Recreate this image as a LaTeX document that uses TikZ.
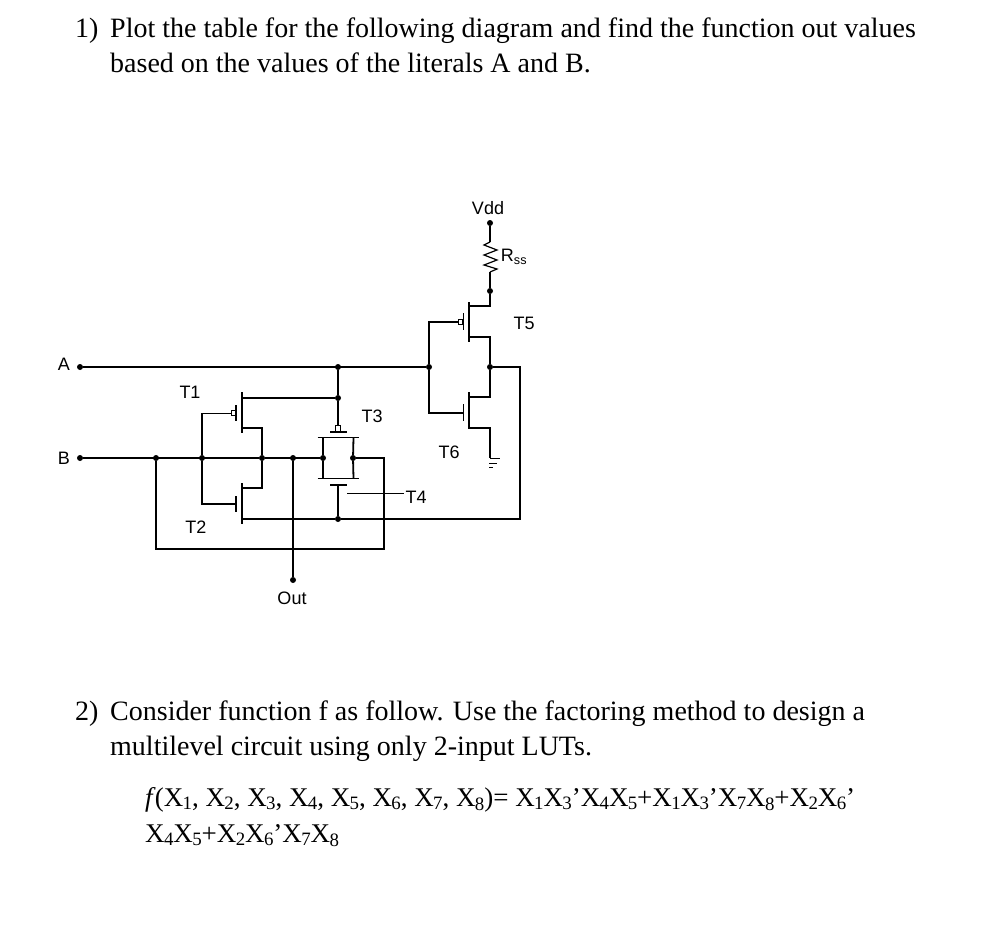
\documentclass[tikz,border=0pt]{standalone}
\usepackage{fontspec}
\setmainfont{Liberation Serif}
\setsansfont{Liberation Sans}
\usetikzlibrary{calc, positioning}
\newcommand{\Xs}[1]{X\kern-0.6pt\textsubscript{#1}\kern-0.6pt}
\tikzset{
  wire/.style={line width=1.8pt},
  thinwire/.style={line width=0.9pt},
  jdot/.style={circle,fill=black,inner sep=0pt,minimum size=6pt},
  lbl/.style={font=\sffamily\fontsize{18}{20}\selectfont,inner sep=0pt},
  para/.style={font=\fontsize{28}{32}\selectfont,inner sep=0pt,anchor=base west},
  formula/.style={font=\fontsize{27}{32}\selectfont,inner sep=0pt,anchor=base west},
}
\begin{document}
\begin{tikzpicture}[x=1pt,y=-1pt]
  \useasboundingbox (0,0) rectangle (984,932);
  % Question 1
  \node[para] (qa) at (75,37) {1)};
  \node[para] (qb) at (110,37) {Plot the table for the following diagram and find the function out values};
  \node[para] (qc) at (110,72) {based on the values of the literals A and B.};
  % Question 2
  \node[para] (qd) at (75,720) {2)};
  \node[para] (qe) at (110,720) {Consider function f as follow. Use the factoring method to design a};
  \node[para] (qf) at (110,755) {multilevel circuit using only 2-input LUTs.};
  \node[formula] (fa) at (145,806) {\textit{f}\kern-1pt(\Xs{1}, \Xs{2}, \Xs{3}, \Xs{4}, \Xs{5}, \Xs{6}, \Xs{7}, \Xs{8})= \Xs{1}\Xs{3}’\Xs{4}\Xs{5}+\Xs{1}\Xs{3}’\Xs{7}\Xs{8}+\Xs{2}\Xs{6}’};
  \node[formula] (fb) at (145,842) {\Xs{4}\Xs{5}+\Xs{2}\Xs{6}’\Xs{7}\Xs{8}};
  % Junctions
  \foreach \name/\x/\y in {inA/80/367, inB/80/458, vdd/490/223, rbot/490/291, gate/429/367,
      mid/490/367, topT3/338/367, srcT1/338/398, loopB/156/458, gateB/202/458, outT1/262/458,
      outN/293/458, leftT3/323/458, rightT3/353/458, botT4/338/519, outP/293/580}
    \node[jdot] (\name) at (\x,\y) {};
  % Bends
  \coordinate (t5src) at (490,306);
  \coordinate (t5drn) at (490,337);
  \coordinate (t5g) at (458,322);
  \coordinate (t5c) at (429,322);
  \coordinate (t6g) at (463,413);
  \coordinate (t6c) at (429,413);
  \coordinate (t6drn) at (490,397);
  \coordinate (t6src) at (490,428);
  \coordinate (gnd) at (490,458);
  \coordinate (t1src) at (242,398);
  \coordinate (t1drn) at (262,428);
  \coordinate (t1g) at (231,413);
  \coordinate (t1c) at (202,413);
  \coordinate (t2drn) at (262,488);
  \coordinate (t2src) at (242,519);
  \coordinate (t2g) at (236,504);
  \coordinate (t2c) at (202,504);
  \coordinate (rtop) at (490,242);
  \coordinate (rlow) at (490,272);
  \coordinate (midR) at (520,367);
  \coordinate (busR) at (520,519);
  \coordinate (t3g) at (338,425);
  \coordinate (t4g) at (338,485);
  \coordinate (loopA) at (384,458);
  \coordinate (loopC) at (384,549);
  \coordinate (loopD) at (156,549);
  \coordinate (leadA) at (347,493);
  \coordinate (leadB) at (404,493);
  % Inputs and Vdd
  \draw[wire] (inA) -- (gate);
  \draw[wire] (inB) -- (outT1) -- (leftT3);
  \draw[wire] (vdd) -- (rtop);
  \draw[wire] (rlow) -- (rbot) -- (t5src) -- (469,306);
  \draw[line width=1.2pt] (rtop) -- (484,245) -- (497,250) -- (484,255) -- (497,260) -- (484,265) -- (497,269) -- (rlow);
  % T5 and T6
  \draw[wire] (469,302) -- (469,342);
  \draw[wire] (463.5,313) -- (463.5,330);
  \draw[thinwire,fill=white] (458.5,319.5) rectangle (462.5,324.5);
  \draw[wire] (gate) -- (t5c) -- (t5g);
  \draw[wire] (gate) -- (t6c) -- (t6g);
  \draw[wire] (469,337) -- (t5drn) -- (mid);
  \draw[wire] (mid) -- (t6drn) -- (469,397);
  \draw[wire] (469,392) -- (469,429);
  \draw[wire] (463.5,404) -- (463.5,421);
  \draw[wire] (469,428) -- (t6src) -- (gnd);
  \draw[thinwire] (gnd) -- (500,458);
  \draw[thinwire] (489,463) -- (497,463);
  \draw[thinwire] (489,467.5) -- (493,467.5);
  \draw[wire] (mid) -- (midR) -- (busR) -- (botT4) -- (t2src);
  % T1 and T2
  \draw[wire] (topT3) -- (srcT1) -- (t1src);
  \draw[wire] (242,392) -- (242,433);
  \draw[wire] (236,405) -- (236,421);
  \draw[thinwire,fill=white] (231,410.5) rectangle (235,415.5);
  \draw[thinwire] (t1c) -- (t1g);
  \draw[wire] (gateB) -- (t1c);
  \draw[wire] (gateB) -- (t2c) -- (t2g);
  \draw[wire] (242,428) -- (t1drn) -- (outT1);
  \draw[wire] (outT1) -- (t2drn) -- (242,488);
  \draw[wire] (242,483) -- (242,524);
  \draw[wire] (236,496) -- (236,512);
  % T3 and T4
  \draw[wire] (srcT1) -- (t3g);
  \draw[thinwire,fill=white] (335.5,425.5) rectangle (340.5,431);
  \draw[wire] (330,432) -- (347,432);
  \draw[wire] (317.5,437.5) -- (358.5,437.5);
  \draw[wire] (317.5,478.5) -- (358.5,478.5);
  \draw[wire] (323,437.5) -- (leftT3) -- (323,478.5);
  \draw[wire] (353.5,437.5) -- (rightT3) -- (353.5,478.5);
  \draw[wire] (330,485) -- (347,485);
  \draw[wire] (t4g) -- (botT4);
  \draw[thinwire] (leadA) -- (leadB);
  % Loop and output
  \draw[wire] (rightT3) -- (loopA) -- (loopC) -- (loopD) -- (loopB);
  \draw[wire] (outN) -- (outP);
  % Labels
  \node[lbl] (lA) at (64,364) {A};
  \node[lbl] (lB) at (64,458) {B};
  \node[lbl] (lT1) at (190,392) {T1};
  \node[lbl] (lT2) at (196,527) {T2};
  \node[lbl] (lT3) at (372,416) {T3};
  \node[lbl] (lT4) at (416,497) {T4};
  \node[lbl] (lT5) at (524,323) {T5};
  \node[lbl] (lT6) at (449,452) {T6};
  \node[lbl] (lVdd) at (488,208) {Vdd};
  \node[lbl] (lRss) at (514,257) {R\textsubscript{ss}};
  \node[lbl] (lOut) at (292,598) {Out};
\end{tikzpicture}
\end{document}
